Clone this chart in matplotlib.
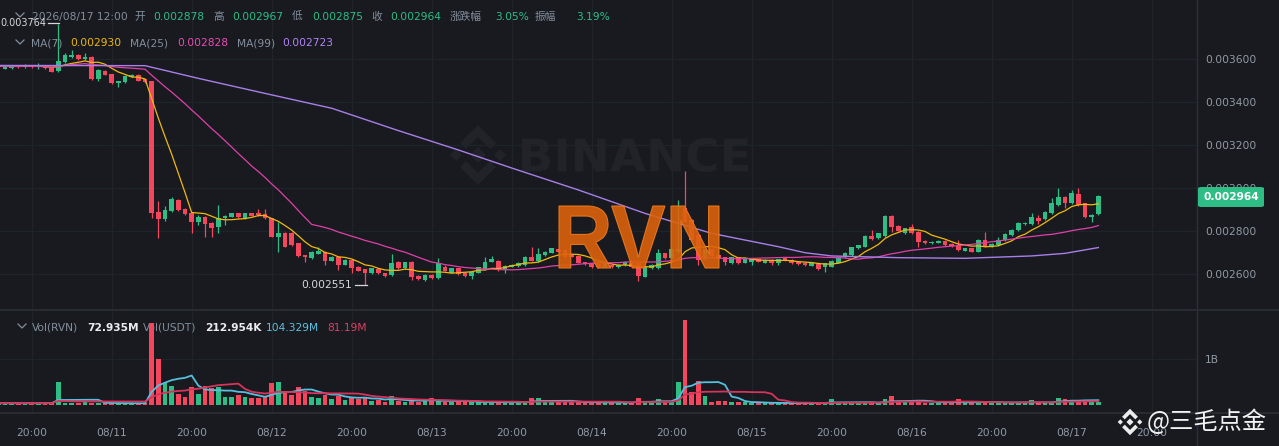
import numpy as np
import pandas as pd
import matplotlib
matplotlib.use('Agg')
import matplotlib.pyplot as plt
from matplotlib.textpath import TextPath
from matplotlib.font_manager import FontProperties
from matplotlib.patches import PathPatch, FancyBboxPatch, Polygon
from matplotlib.transforms import Affine2D
from matplotlib.lines import Line2D

plt.rcParams['font.family'] = ['DejaVu Sans', 'Noto Sans CJK SC']

# ---------------- data (1h candles, prices in 1e-6 USDT, volume in millions RVN) -------------
open_u = [3563,3555,3558,3567,3563,3572,3563,3564,3560,3544,
          3587,3611,3619,3599,3608,3507,3546,3530,3487,3492,
          3518,3526,3506,3498,2887,2854,2894,2944,2901,2885,
          2843,2866,2839,2817,2859,2867,2882,2859,2882,2882,
          2879,2859,2773,2792,2792,2743,2688,2673,2695,2704,
          2662,2681,2642,2665,2634,2622,2603,2622,2603,2595,
          2657,2627,2657,2591,2572,2595,2580,2634,2606,2626,
          2606,2591,2606,2623,2657,2662,2622,2634,2637,2642,
          2681,2660,2688,2699,2715,2712,2688,2684,2654,2650,
          2647,2634,2642,2631,2642,2650,2650,2587,2628,2627,
          2696,2673,2701,2906,2851,2781,2669,2715,2688,2678,
          2650,2678,2653,2657,2669,2653,2665,2650,2673,2665,
          2657,2653,2639,2645,2634,2634,2653,2678,2688,2720,
          2727,2777,2766,2777,2870,2823,2789,2817,2797,2755,
          2743,2745,2753,2739,2730,2709,2720,2704,2758,2730,
          2735,2758,2781,2805,2832,2833,2859,2854,2882,2921,
          2960,2929,2972,2929,2867,2878]
high_u = [3572,3567,3570,3570,3575,3574,3581,3567,3563,3764,
          3629,3642,3625,3628,3612,3552,3549,3532,3500,3524,
          3530,3528,3508,3500,2939,2916,2960,2950,2905,2888,
          2874,2870,2842,2921,2873,2886,2886,2886,2886,2902,
          2902,2862,2843,2795,2795,2746,2690,2707,2726,2707,
          2684,2684,2668,2668,2637,2625,2630,2625,2606,2692,
          2660,2657,2660,2594,2598,2598,2674,2642,2629,2629,
          2609,2614,2634,2678,2684,2665,2640,2645,2656,2684,
          2727,2720,2707,2723,2718,2715,2691,2687,2657,2653,
          2650,2653,2645,2645,2660,2653,2653,2637,2645,2715,
          2699,2718,2944,3080,2855,2785,2718,2718,2691,2681,
          2681,2681,2672,2676,2672,2668,2668,2672,2676,2668,
          2660,2656,2653,2648,2653,2665,2681,2702,2727,2737,
          2780,2805,2792,2873,2873,2826,2816,2831,2800,2758,
          2753,2758,2756,2742,2758,2723,2723,2761,2797,2742,
          2770,2789,2808,2842,2842,2885,2874,2893,2952,2998,
          2963,2991,2998,2932,2877,2967]
low_u = [3558,3553,3555,3560,3560,3558,3553,3555,3538,3541,
         3583,3605,3595,3596,3504,3499,3524,3485,3470,3490,
         3516,3497,3490,2860,2766,2846,2890,2895,2876,2792,
         2828,2773,2773,2792,2828,2864,2860,2856,2868,2871,
         2856,2770,2704,2724,2732,2680,2657,2670,2692,2642,
         2660,2619,2640,2603,2612,2551,2600,2600,2588,2592,
         2624,2624,2572,2572,2569,2577,2577,2612,2603,2597,
         2588,2577,2603,2620,2654,2616,2606,2631,2634,2639,
         2659,2657,2685,2696,2701,2678,2678,2650,2644,2627,
         2628,2631,2628,2628,2639,2631,2569,2584,2625,2624,
         2670,2670,2698,2840,2755,2642,2665,2681,2670,2642,
         2647,2647,2650,2642,2654,2650,2642,2642,2659,2647,
         2644,2639,2636,2619,2611,2631,2650,2675,2685,2717,
         2724,2758,2763,2774,2797,2798,2786,2786,2727,2740,
         2740,2742,2732,2727,2709,2706,2701,2701,2727,2727,
         2732,2755,2778,2802,2829,2830,2833,2851,2879,2918,
         2906,2926,2918,2861,2843,2875]
close_u = [3567,3564,3567,3563,3572,3561,3567,3557,3541,3592,
           3619,3619,3599,3611,3507,3549,3526,3487,3498,3521,
           3526,3499,3494,2882,2854,2898,2947,2898,2879,2843,
           2866,2833,2815,2859,2870,2882,2864,2882,2871,2874,
           2859,2773,2792,2727,2735,2684,2678,2704,2709,2662,
           2681,2642,2665,2626,2615,2606,2627,2603,2591,2650,
           2627,2654,2587,2575,2595,2580,2650,2615,2626,2600,
           2591,2611,2631,2657,2668,2619,2637,2642,2653,2681,
           2662,2693,2704,2720,2704,2681,2681,2653,2647,2634,
           2631,2650,2631,2642,2657,2634,2591,2634,2642,2699,
           2673,2715,2718,2843,2758,2665,2715,2684,2673,2654,
           2678,2650,2669,2673,2657,2665,2653,2669,2662,2650,
           2647,2642,2650,2622,2650,2662,2678,2699,2724,2734,
           2777,2761,2789,2870,2820,2801,2813,2789,2750,2743,
           2750,2755,2735,2730,2712,2720,2704,2758,2730,2739,
           2758,2786,2805,2839,2839,2864,2848,2890,2929,2957,
           2932,2975,2921,2864,2874,2964]
volume_m = [38,42,35,40,44,38,40,46,42,507,
            50,48,44,58,50,36,44,36,44,36,
            30,36,44,1780,1000,471,420,240,180,400,
            240,413,377,400,180,180,218,180,145,160,
            180,471,493,305,218,384,305,180,160,218,
            130,196,110,160,130,180,87,109,58,196,
            87,72,87,72,87,145,101,72,72,72,
            58,58,58,58,58,58,72,58,58,58,
            160,145,72,72,58,72,58,58,55,50,
            55,50,55,50,55,50,160,58,58,130,
            58,58,507,1850,275,522,196,58,87,87,
            58,58,58,40,40,40,40,45,40,45,
            40,45,40,50,45,123,50,45,50,45,
            58,50,58,123,188,58,58,87,87,50,
            45,45,50,45,123,45,50,58,94,45,
            50,45,45,50,45,109,50,50,55,160,
            120,115,110,95,60,72.935]
# MA(99) (candle index, price in 1e-6)
ma99_idx = [0, 22, 30, 40, 50, 60, 69, 77, 87, 97, 107, 117, 121, 125, 135, 145, 155, 160, 165]
ma99_u = [3570, 3569, 3510, 3440, 3371, 3267, 3177, 3093, 2991, 2882, 2789, 2727, 2699, 2684,
          2676, 2673, 2684, 2696, 2723]
time_labels = ["20:00", "08/11", "20:00", "08/12", "20:00", "08/13", "20:00", "08/14",
               "20:00", "08/15", "20:00", "08/16", "20:00", "08/17", "20:00"]
price_ticks = [0.0026, 0.0028, 0.0030, 0.0032, 0.0034, 0.0036]

# ---------------- styling -------------
BG = '#181A20'
GRID = '#1F2428'
SEP = '#2B3038'
GREEN = '#2EBD85'
RED = '#F6465D'
GRAY = '#848E9C'
TICK = '#929AA4'
W, H = 1279, 446

o = np.array(open_u) * 1e-6
h = np.array(high_u) * 1e-6
l = np.array(low_u) * 1e-6
c = np.array(close_u) * 1e-6
vol = np.array(volume_m) * 1e6
n = len(c)
idx = np.arange(n)
col = np.where(c >= o, GREEN, RED)

fig = plt.figure(figsize=(W / 100, H / 100), dpi=100, facecolor=BG)
axp = fig.add_axes([0, 1 - 310 / H, 1197 / W, 310 / H])
axv = fig.add_axes([0, 1 - 413 / H, 1197 / W, 103 / H], sharex=axp)


def fx(x):
    return x / W


def fy(y):
    return 1 - y / H


for ax in (axp, axv):
    ax.set_facecolor(BG)
    for s in ax.spines.values():
        s.set_visible(False)
    ax.grid(True, color=GRID, lw=0.9)
    ax.set_axisbelow(True)
    ax.tick_params(length=0, colors=TICK, labelsize=7.7)


def fit_text(s, x0, y0, x1, y1, family='DejaVu Sans', weight='bold', **kw):
    tp = TextPath((0, 0), s, size=100, prop=FontProperties(family=family, weight=weight))
    ext = tp.get_extents()
    sx = (x1 - x0) / ext.width
    sy = (y1 - y0) / ext.height
    tr = (Affine2D().translate(-ext.x0, -ext.y0).scale(sx, sy)
          .translate(x0, H - y1).scale(1 / W, 1 / H) + fig.transFigure)
    return PathPatch(tp, transform=tr, **kw)


def logo(cx, cy, s, color, target, zorder):
    shapes = [
        [(0, -8), (8, 0), (0, 8), (-8, 0)],
        [(-22, -6), (-16, 0), (-22, 6), (-28, 0)],
        [(22, -6), (28, 0), (22, 6), (16, 0)],
        [(0, -30), (18, -12), (12, -6), (0, -18), (-12, -6), (-18, -12)],
        [(0, 30), (18, 12), (12, 6), (0, 18), (-12, 6), (-18, 12)],
    ]
    for sh in shapes:
        pts = [(fx(cx + s * px), fy(cy + s * py)) for px, py in sh]
        p = Polygon(pts, closed=True, transform=fig.transFigure, facecolor=color,
                    edgecolor='none', zorder=zorder)
        target.add_artist(p)


# faint watermark behind the candles
axp.add_artist(fit_text("BINANCE", 522, 138, 748, 172, facecolor='#212328', edgecolor='none', zorder=1))
logo(478, 155, 1.0, '#212328', axp, 1)

# candles
axp.vlines(idx, l, h, colors=col, lw=0.9, zorder=3)
body_b = np.minimum(o, c)
body_h = np.maximum(np.abs(c - o), 1.6e-6)
axp.bar(idx, body_h, bottom=body_b, width=0.7, color=col, linewidth=0, zorder=4)

cs = pd.Series(c)
axp.plot(idx, cs.rolling(7, min_periods=1).mean(), color='#F0B90B', lw=0.9, zorder=5)
axp.plot(idx, cs.rolling(25, min_periods=1).mean(), color='#E040A8', lw=0.9, zorder=5)
axp.plot(ma99_idx, np.array(ma99_u) * 1e-6, color='#A87FE8', lw=1.0, zorder=5)

axp.set_xlim(0.25, 179.8)
axp.set_ylim(0.00243256, 0.00387442)
axp.yaxis.tick_right()
axp.set_yticks(price_ticks)
axp.set_yticklabels([f'{t:.6f}' for t in price_ticks])
axp.tick_params(axis='y', pad=5.8)
axp.tick_params(axis='x', labelbottom=False)

# volume
axv.bar(idx, vol, width=0.7, color=col, linewidth=0, zorder=3)
vs = pd.Series(vol)
axv.plot(idx, vs.rolling(7, min_periods=1).mean(), color='#55BFDD', lw=1.3, zorder=4)
axv.plot(idx, vs.rolling(14, min_periods=1).mean(), color='#D8335B', lw=1.3, zorder=4)
axv.set_ylim(-0.1739e9, 2.0652e9)
axv.yaxis.tick_right()
axv.set_yticks([1e9])
axv.set_yticklabels(['1B'])
axv.tick_params(axis='y', pad=5.8)
axv.set_xticks(np.arange(5, 5 + 12 * len(time_labels), 12))
axv.set_xticklabels(time_labels)
axv.tick_params(axis='x', pad=10.5)

# separators
for yy in (310, 413):
    fig.add_artist(Line2D([0, 1], [fy(yy), fy(yy)], transform=fig.transFigure, color=SEP, lw=1.2))
fig.add_artist(Line2D([fx(1197), fx(1197)], [0, 1], transform=fig.transFigure, color=SEP, lw=1.0))


def T(x, y, s, color, size=7.7, weight='normal', ha='left', target=None, zorder=6, **kw):
    if target is None:
        return fig.text(fx(x), fy(y), s, color=color, fontsize=size, ha=ha, va='center',
                        fontweight=weight, zorder=zorder, **kw)
    return target.text(fx(x), fy(y), s, color=color, fontsize=size, ha=ha, va='center',
                       fontweight=weight, transform=fig.transFigure, zorder=zorder, **kw)


def chevron(x, y):
    fig.add_artist(Line2D([fx(x), fx(x + 4), fx(x + 8)], [fy(y - 2), fy(y + 2), fy(y - 2)],
                          transform=fig.transFigure, color=GRAY, lw=0.9))


# header line 1
chevron(16, 15)
T(32, 17, "2026/08/17 12:00", GRAY)
for x, s, cl in [(134, "开", GRAY), (153, "0.002878", GREEN), (213, "高", GRAY), (232, "0.002967", GREEN),
                 (292, "低", GRAY), (312, "0.002875", GREEN), (371, "收", GRAY), (390, "0.002964", GREEN),
                 (450, "涨跌幅", GRAY), (495, "3.05%", GREEN), (535, "振幅", GRAY), (576, "3.19%", GREEN)]:
    T(x, 17, s, cl)
# header line 2
chevron(16, 42)
for x, s, cl in [(31, "MA(7)", GRAY), (70, "0.002930", '#F0B90B'), (130, "MA(25)", GRAY),
                 (177, "0.002828", '#E94BB5'), (237, "MA(99)", GRAY), (282, "0.002723", '#B385F8')]:
    T(x, 43, s, cl)
# volume header (drawn beneath the bars, as in the reference)
chevron(18, 326)
for x, s, cl, wt in [(32, "Vol(RVN)", GRAY, 'normal'), (87, "72.935M", '#EAECEF', 'bold'),
                     (143, "Vol(USDT)", GRAY, 'normal'), (205, "212.954K", '#EAECEF', 'bold'),
                     (266, "104.329M", '#5DC1DE', 'normal'), (327, "81.19M", '#DF3E61', 'normal')]:
    T(x, 328, s, cl, weight=wt, target=axv, zorder=2.5)

# high / low markers
T(46, 23, "0.003764", '#D5D8DC', size=7.0, ha='right')
fig.add_artist(Line2D([fx(48), fx(59)], [fy(23), fy(23)], transform=fig.transFigure, color='#D5D8DC', lw=0.9))
T(352, 285, "0.002551", '#D5D8DC', ha='right')
fig.add_artist(Line2D([fx(355), fx(367)], [fy(285), fy(285)], transform=fig.transFigure, color='#D5D8DC', lw=0.9))

# last price badge
fig.add_artist(FancyBboxPatch((fx(1198), fy(207)), fx(66), 20 / H,
                              boxstyle="round,pad=0,rounding_size=0.003",
                              transform=fig.transFigure, facecolor=GREEN, edgecolor='none', zorder=8))
T(1231, 197, "0.002964", 'white', weight='bold', ha='center', zorder=9)

# big RVN overlay
fig.add_artist(fit_text("RVN", 559, 206, 719, 268, family='Liberation Sans', weight='bold',
                        facecolor='#DC620C', edgecolor='#EE7A1E', lw=0.8, alpha=0.9, zorder=10))

# bottom right watermark
logo(1130, 422, 0.44, '#EDEDED', fig, 11)
fig.text(fx(1147), fy(422), "@三毛点金", color='#F2F2F2', fontsize=17.5, ha='left', va='center',
         family=['Noto Sans CJK SC', 'DejaVu Sans'], zorder=11)

fig.savefig('out.png', dpi=100, facecolor=BG)
